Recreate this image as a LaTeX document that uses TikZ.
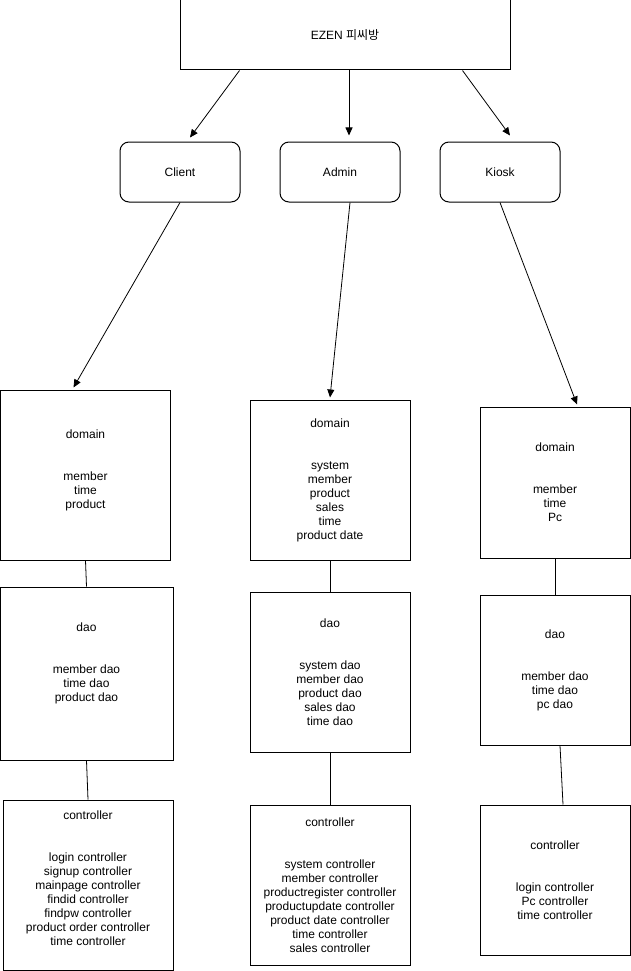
\documentclass[tikz,border=0pt]{standalone}
\usepackage{fontspec}
\setmainfont{Liberation Sans}
\newfontfamily\kor{Noto Sans CJK KR}
\usetikzlibrary{arrows.meta}
\tikzset{block/.style = {draw, fill=white, line width=1pt, rectangle, align=center, inner sep=0pt, font=\fontsize{12}{14}\selectfont},
         rblock/.style={block, rounded corners=9pt, minimum width=120pt, minimum height=60pt},
         link/.style={line width=0.8pt},
         arr/.style={link, -{Triangle[length=8pt,width=7pt]}}}
\begin{document}
\begin{tikzpicture}[x=1pt,y=-1pt]
        \useasboundingbox(0,0)rectangle(631,971);
        \node[block, minimum width=330pt, minimum height=70pt](ezen)at(345,35){EZEN {\kor 피씨방}};
        \node[rblock](client)at(180,172){Client};
        \node[rblock](admin)at(340,172){Admin};
        \node[rblock](kiosk)at(500,172){Kiosk};

        % client
        \node[block, minimum width=170pt, minimum height=170pt, text depth=12.5pt](cdomain)at(85.5,475){domain\\[28pt]member\\time\\product};
        \node[block, minimum width=173pt, minimum height=173pt, text depth=22.5pt](cdao)at(86.5,673.5){dao\\[28pt]member dao\\time dao\\product dao};
        \node[block, minimum width=170pt, minimum height=170pt, text depth=14pt](cctrl)at(88,885){controller\\[28pt]login controller\\signup controller\\mainpage controller\\findid controller\\findpw controller\\product order controller\\time controller};

        % admin
        \node[block, minimum width=160pt, minimum height=160pt](adomain)at(330,480){domain\\[28pt]system\\member\\product\\sales\\time\\product date};
        \node[block, minimum width=160pt, minimum height=160pt](adao)at(330,672){dao\\[28pt]system dao\\member dao\\product dao\\sales dao\\time dao};
        \node[block, minimum width=160pt, minimum height=160pt](actrl)at(330,885){controller\\[28pt]system controller\\member controller\\productregister controller\\productupdate controller\\product date controller\\time controller\\sales controller};

        % kiosk
        \node[block, minimum width=150pt, minimum height=151pt](kdomain)at(555,482.5){domain\\[28pt]member\\time\\Pc};
        \node[block, minimum width=150pt, minimum height=150pt](kdao)at(555,670){dao\\[28pt]member dao\\time dao\\pc dao};
        \node[block, minimum width=150pt, minimum height=150pt](kctrl)at(555,880){controller\\[28pt]login controller\\Pc controller\\time controller};

        \draw[arr]([xshift=60pt]ezen.south west)--([xshift=10pt,yshift=4pt]client.north);
        \draw[arr]([xshift=4pt]ezen.south)--([xshift=9pt,yshift=6pt]admin.north);
        \draw[arr]([xshift=-48pt]ezen.south east)--([xshift=10pt,yshift=6pt]kiosk.north);
        \draw[arr](client.south)--([xshift=-12pt,yshift=2pt]cdomain.north);
        \draw[arr]([xshift=10pt]admin.south)--([yshift=2pt]adomain.north);
        \draw[arr](kiosk.south)--([xshift=22pt,yshift=2pt]kdomain.north);

        \draw[link](cdomain.south)--(cdao.north);
        \draw[link](cdao.south)--(cctrl.north);
        \draw[link](adomain.south)--(adao.north);
        \draw[link](adao.south)--(actrl.north);
        \draw[link](kdomain.south)--(kdao.north);
        \draw[link]([xshift=5pt]kdao.south)--([xshift=8pt]kctrl.north);
    \end{tikzpicture}
\end{document}
